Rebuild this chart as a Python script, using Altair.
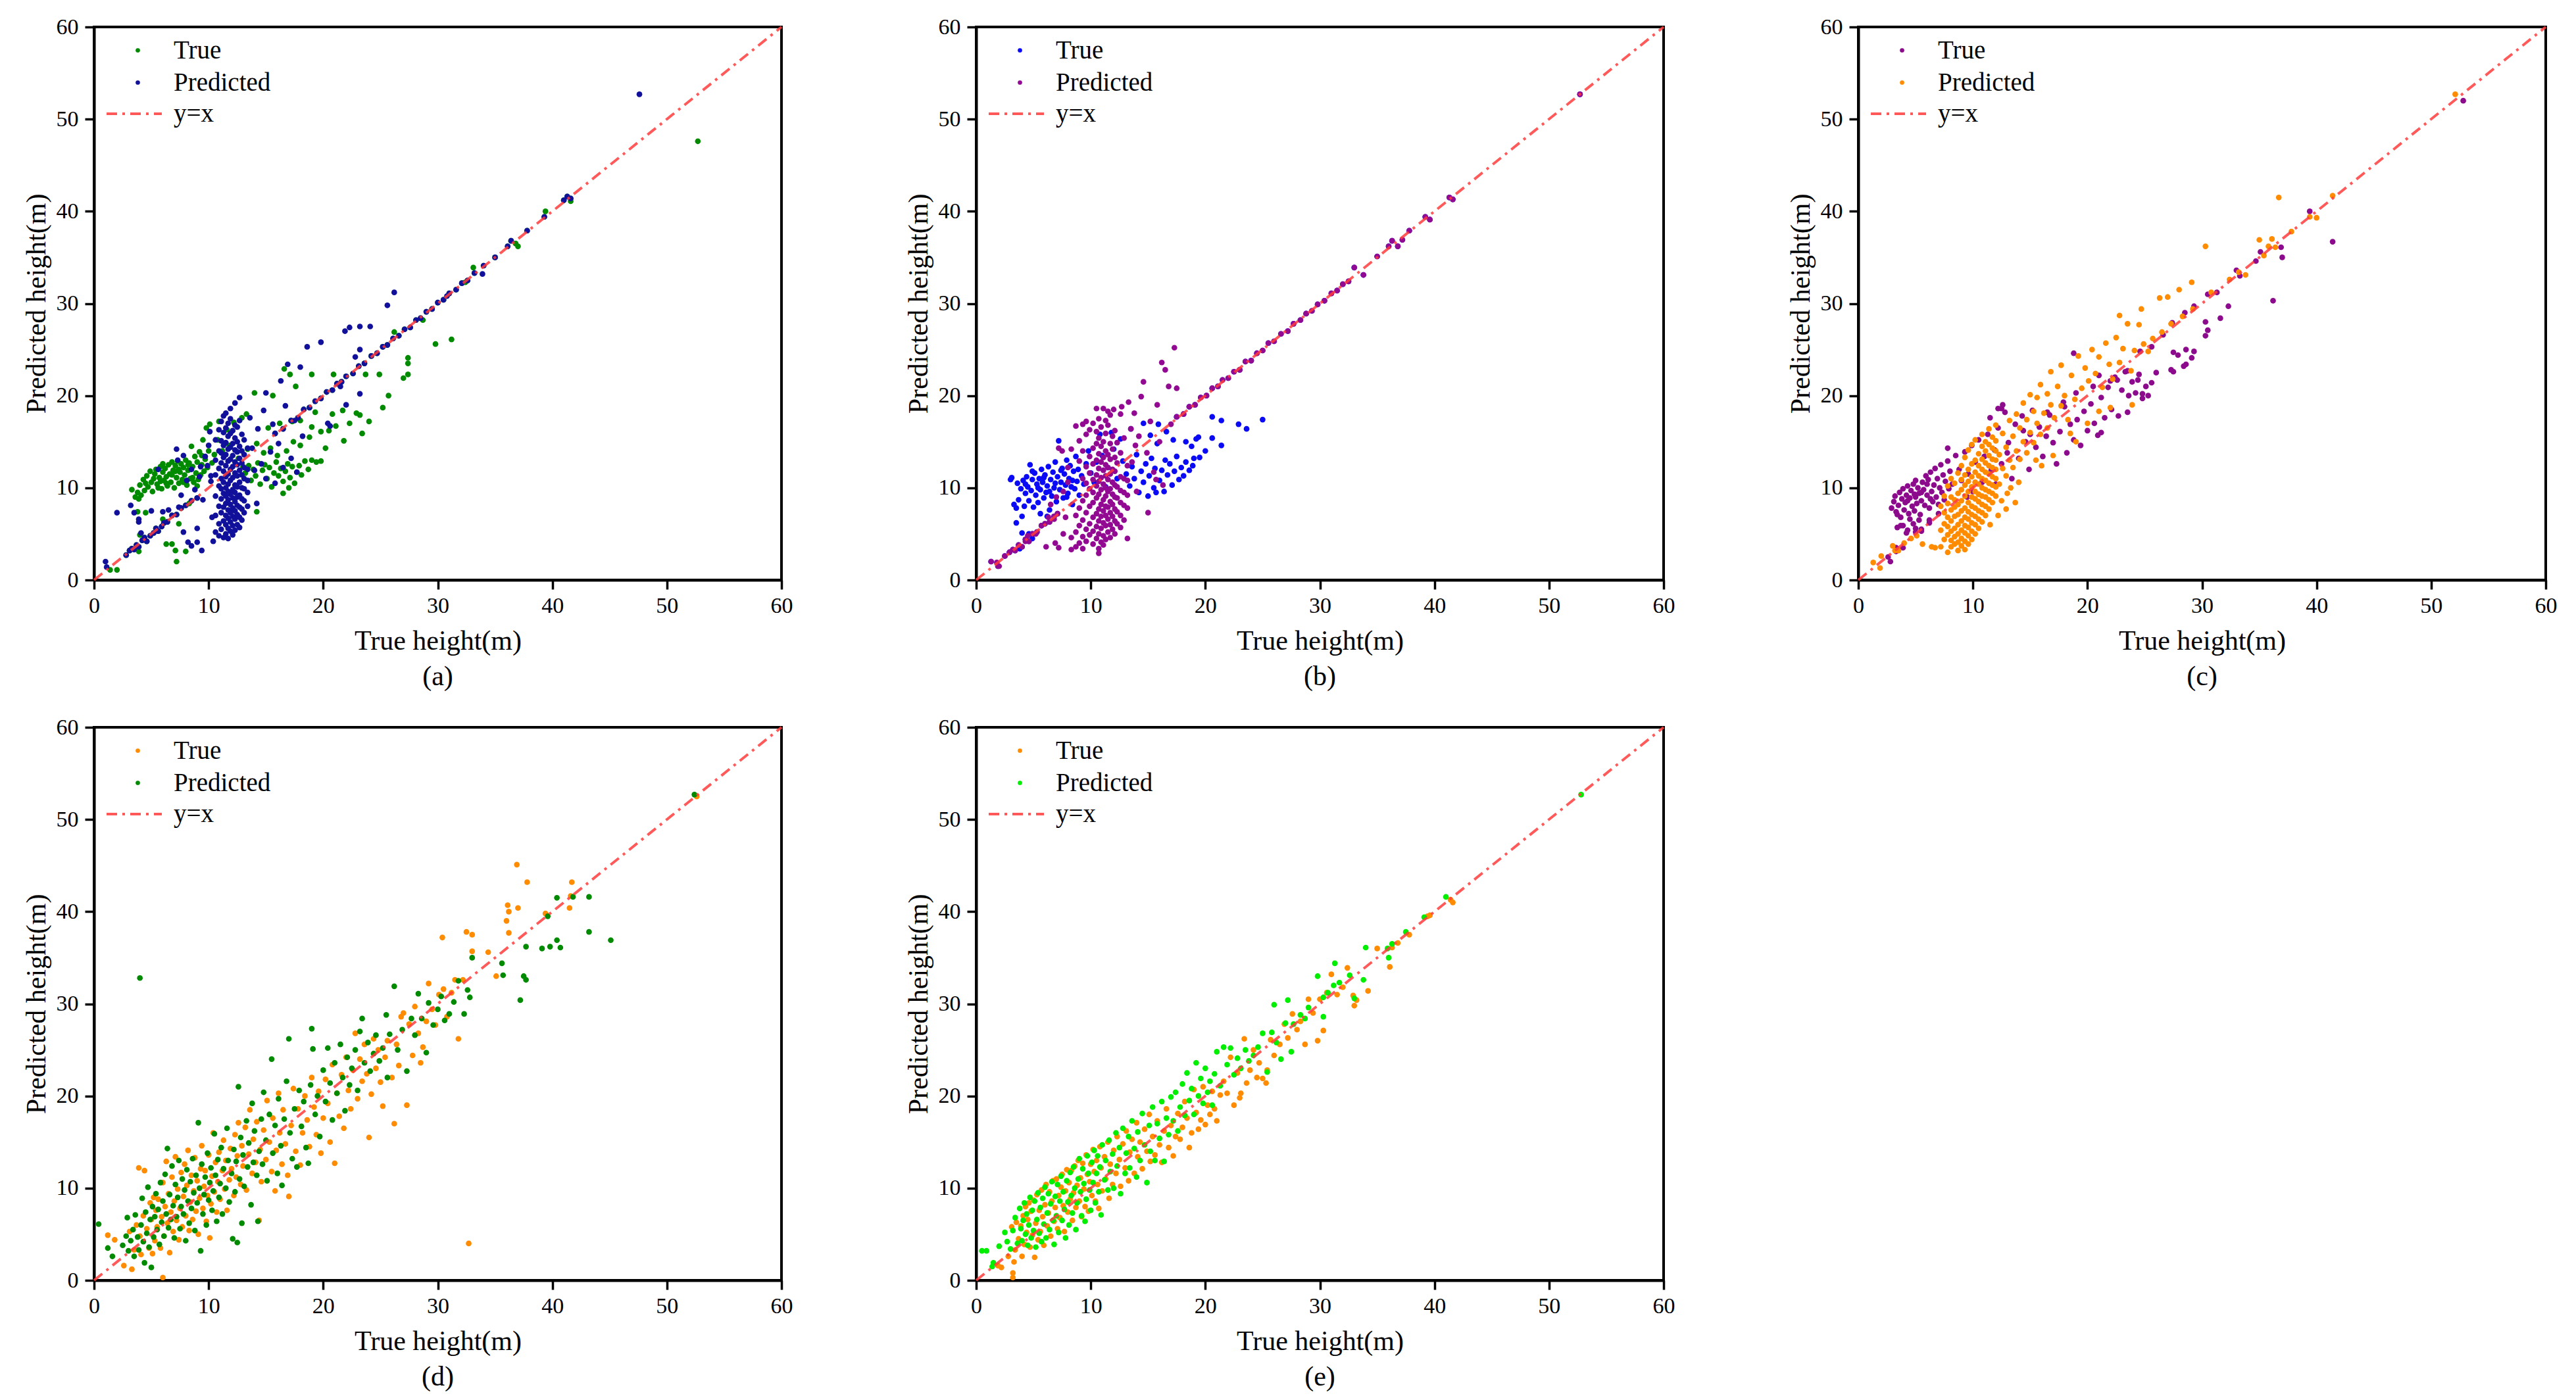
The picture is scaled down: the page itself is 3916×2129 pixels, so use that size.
import altair as alt
import pandas as pd

FONT = "Liberation Serif"
TICKS = [0, 10, 20, 30, 40, 50, 60]
LINE_X = [0, 60]
LINE_Y = [0, 60]
SERIES = ["True", "Predicted"]
LINE_LABEL = ["y=x"]
X_TITLE = "True height(m)"
Y_TITLE = "Predicted height(m)"
CAPTIONS = ["(a)", "(b)", "(c)", "(d)", "(e)"]
PALETTES = [
    ["#008a00", "#10109a"],
    ["#0a0af5", "#920a92"],
    ["#8c0a8c", "#ff8c00"],
    ["#ff8c00", "#008a00"],
    ["#ff8c00", "#00ee00"],
]
LINE_COLOR = "#ff3c3c"

# ---------------- panel (a) ----------------
A_DIAG_XY = [2.8,2.7, 3.1,3.2, 3.3,3.4, 3.5,3.3, 3.7,3.8, 3.9,3.6, 4.2,4.3, 4.4,4.6, 4.6,4.2, 4.9,4.8, 5.2,5.1, 5.4,5.6, 5.6,5.3, 5.9,5.8, 6.1,6.2, 6.4,6.3, 6.8,7.0, 7.2,7.1, 7.6,7.8, 8.0,8.1, 8.5,8.6, 9.0,8.9,
    15.8,15.9, 16.5,16.4, 17.2,17.3, 17.8,17.6, 18.3,18.5, 18.8,18.7, 19.3,19.4, 19.8,19.7, 20.3,20.4, 20.8,20.6, 21.2,21.3, 21.6,21.5, 22.0,22.1, 22.6,22.4, 23.1,23.2, 23.6,23.5, 24.2,24.3, 24.7,24.6, 25.2,25.3, 25.6,25.5,
    26.1,26.2, 26.6,26.5, 27.1,27.2, 27.6,27.4, 28.1,28.2, 28.5,28.4, 29.0,29.1, 29.5,29.4, 30.0,30.1, 30.5,30.4, 31.0,31.1, 31.6,31.5, 32.1,32.2, 32.6,32.5, 33.2,33.3, 34.0,34.1, 35.0,35.0, 36.1,36.2, 36.4,36.8, 37.8,37.9, 39.3,39.4, 41.0,41.2, 41.3,41.6, 41.6,41.4]
A_TRUE_XY = [3.3,9.8, 3.6,9.0, 3.8,9.5, 4.0,10.3, 4.1,9.2, 4.3,10.9, 4.4,9.7, 4.6,11.3, 4.7,10.1, 4.9,11.8, 5.0,10.6, 5.1,9.6, 5.3,11.5, 5.4,12.0, 5.5,10.4, 5.7,11.1, 5.8,12.3, 5.9,9.9, 6.0,11.7, 6.1,10.8, 6.2,12.1, 6.3,11.2, 6.4,10.2, 6.5,12.5, 6.6,11.5, 6.7,10.6, 6.8,12.8, 6.9,11.9, 7.0,10.0, 7.1,12.4,
    7.2,11.1, 7.3,12.9, 7.4,10.5, 7.5,11.7, 7.6,12.6, 7.7,10.9, 7.8,12.2, 7.9,11.4, 8.0,13.0, 8.1,10.3, 8.2,11.9, 8.3,12.7, 8.4,11.0, 8.5,14.5, 8.6,12.3, 8.7,10.6, 8.8,13.4, 8.9,11.6, 9.0,12.8, 9.1,10.9, 9.2,13.9, 9.3,11.4, 9.4,12.5, 9.5,15.2, 9.6,11.8, 9.7,13.1, 9.8,16.5, 9.9,12.2, 10.0,14.0, 10.1,16.9,
    4.5,10.5, 5.2,11.0, 5.6,10.0, 6.0,12.6, 6.3,10.5, 6.8,11.4, 7.1,11.8, 7.4,12.0, 7.8,10.6, 8.2,12.5, 8.6,11.1, 9.0,10.2, 9.4,13.5, 10.3,12.7, 10.5,13.6, 10.8,15.2, 10.9,17.2, 11.2,14.0, 3.9,8.8, 5.8,10.7,
    1.4,1.1, 2.0,1.1, 6.3,3.9, 6.8,3.9, 7.1,3.2, 7.2,2.0, 8.0,3.1, 7.4,6.1, 6.0,6.6, 4.5,7.3, 3.8,7.4, 4.0,4.9, 3.9,3.1, 8.3,8.3,
    11.6,16.3, 12.2,17.1, 12.6,13.2, 13.0,12.3, 11.8,14.6, 12.9,17.6, 13.3,18.0,
    13.2,11.6, 13.5,12.4, 13.7,10.8, 13.9,12.0, 14.1,11.3, 14.3,12.7, 14.5,10.4, 14.7,11.9, 14.9,12.5, 15.1,11.0, 15.3,12.2, 15.5,10.1, 15.7,11.6, 15.9,12.8, 16.1,11.3, 16.3,12.1, 16.5,10.7, 16.7,11.8, 16.9,12.6, 17.1,11.1,
    17.3,12.3, 17.5,10.5, 17.7,11.7, 17.9,12.4, 18.1,11.4, 18.4,12.9, 18.7,12.0, 19.0,13.0, 19.4,12.8, 19.8,12.9, 13.4,14.2, 14.2,14.8, 14.8,13.8, 15.4,14.3, 16.0,13.5, 16.8,14.0, 17.4,15.0, 18.0,14.6, 16.5,9.4, 17.0,10.0, 14.2,7.4,
    14.0,20.3, 15.6,20.0, 16.6,22.9, 17.1,22.3, 17.6,21.0, 18.0,17.3, 17.3,17.2, 16.2,17.0, 15.2,16.5, 19.0,22.3, 19.3,18.2, 20.9,22.3, 23.7,22.3, 24.9,22.3,
    20.2,14.3, 21.1,16.7, 21.8,15.1, 20.5,16.2, 20.8,18.0, 21.7,18.4, 22.9,18.1, 23.2,17.9, 23.4,15.9, 24.0,17.2, 22.3,17.0, 19.0,16.6, 19.8,16.1, 18.8,15.5, 25.2,18.7, 25.7,20.0, 27.0,21.9, 27.4,22.3, 27.4,23.5, 27.4,24.1,
    29.8,25.6, 31.2,26.1, 37.0,36.2, 36.8,36.5, 39.4,40.0, 41.6,41.1, 52.7,47.6, 33.1,33.9, 32.4,32.3, 28.7,28.2, 26.2,26.9]
A_PRED_XY = [10.6,5.2, 10.6,7.0, 10.6,9.1, 10.6,11.4, 10.6,13.0, 10.6,15.2,
    10.9,4.8, 10.9,6.1, 10.9,8.0, 10.9,10.2, 10.9,12.1, 10.9,14.0, 10.9,16.3,
    11.1,5.5, 11.1,7.3, 11.1,8.8, 11.1,9.9, 11.1,11.0, 11.1,12.7, 11.1,13.8, 11.1,15.1, 11.1,17.2,
    11.3,4.6, 11.3,6.4, 11.3,7.9, 11.3,9.4, 11.3,10.6, 11.3,11.8, 11.3,13.3, 11.3,14.6, 11.3,16.0, 11.3,17.8,
    11.5,5.0, 11.5,6.0, 11.5,7.0, 11.5,8.3, 11.5,9.1, 11.5,10.0, 11.5,11.2, 11.5,12.4, 11.5,13.6, 11.5,14.9, 11.5,16.5, 11.5,18.1,
    11.7,4.5, 11.7,5.6, 11.7,6.7, 11.7,7.6, 11.7,8.7, 11.7,9.6, 11.7,10.4, 11.7,11.5, 11.7,12.9, 11.7,14.2, 11.7,15.6, 11.7,17.0,
    11.9,5.3, 11.9,6.3, 11.9,7.3, 11.9,8.2, 11.9,9.3, 11.9,10.8, 11.9,12.0, 11.9,13.1, 11.9,14.4, 11.9,15.9, 11.9,17.5, 11.9,18.6,
    12.1,4.9, 12.1,5.9, 12.1,6.9, 12.1,7.8, 12.1,8.9, 12.1,9.8, 12.1,11.1, 12.1,12.3, 12.1,13.5, 12.1,14.8, 12.1,16.2,
    12.3,5.4, 12.3,6.6, 12.3,7.5, 12.3,8.5, 12.3,9.5, 12.3,10.3, 12.3,11.6, 12.3,12.8, 12.3,14.1, 12.3,15.4, 12.3,16.8, 12.3,19.2,
    12.5,6.0, 12.5,7.1, 12.5,8.1, 12.5,9.0, 12.5,10.1, 12.5,11.3, 12.5,12.5, 12.5,13.9, 12.5,15.0, 12.5,16.6,
    12.7,5.7, 12.7,6.8, 12.7,7.9, 12.7,9.2, 12.7,10.6, 12.7,11.9, 12.7,13.2, 12.7,14.5, 12.7,17.3, 12.7,19.8,
    12.9,6.5, 12.9,7.7, 12.9,8.8, 12.9,10.0, 12.9,11.4, 12.9,12.7, 12.9,14.0, 12.9,15.8,
    13.1,7.3, 13.1,8.6, 13.1,9.9, 13.1,11.0, 13.1,12.2, 13.1,13.6, 13.1,15.2,
    13.4,8.0, 13.4,9.5, 13.4,10.8, 13.4,12.0, 13.4,14.3,
    1.0,2.0, 1.1,1.4, 2.0,7.3, 3.2,8.1, 3.5,7.3, 3.9,6.6, 3.9,6.3, 4.1,5.1, 5.0,7.5, 6.0,7.4, 6.5,7.6, 7.2,14.2, 7.3,13.0, 7.4,7.9, 7.6,9.2, 7.8,5.2, 8.2,4.1, 8.5,3.7, 9.0,4.1, 9.4,3.2,
    9.0,5.6, 9.5,8.7, 9.3,12.3, 8.5,12.0, 8.1,10.8, 8.8,9.8, 9.7,13.4, 10.0,14.6, 10.1,16.1, 10.2,10.7, 10.3,6.8, 10.4,4.2, 13.6,17.6, 13.8,14.3, 14.0,11.9, 14.2,8.3, 14.3,16.4, 14.6,12.6, 14.8,18.4, 15.0,20.3,
    15.0,11.0, 15.4,13.9, 15.6,16.9, 15.8,10.5, 16.1,14.8, 16.3,21.6, 16.5,12.2, 16.7,18.9, 16.9,23.4, 17.2,13.2, 17.5,17.3, 17.7,11.7, 18.0,23.1, 18.2,15.6, 18.6,25.3, 19.8,25.8, 20.6,16.7, 21.9,27.0, 22.3,27.4, 23.2,27.5,
    24.1,27.5, 23.2,25.0, 21.5,21.0, 22.0,19.0, 23.2,20.2, 25.6,29.8, 26.2,31.2, 22.8,24.2, 20.4,17.0, 30.8,30.8, 33.9,33.2, 47.6,52.7, 5.6,12.0, 7.8,13.5, 9.2,11.2, 9.9,12.4, 10.2,11.3]

# ---------------- panel (b) ----------------
B_DIAG_XY = [1.3,2.0, 1.9,1.5, 2.5,2.6, 2.9,3.0, 3.2,3.3, 3.4,3.2, 3.7,3.8, 4.0,3.6, 4.3,4.4, 4.6,4.2, 4.9,5.0, 5.3,5.2, 5.7,5.9, 6.0,6.1, 6.4,6.3, 6.8,6.9, 7.1,7.2,
    17.5,17.7, 18.1,18.0, 18.6,18.8, 19.1,19.0, 19.6,19.8, 20.1,20.0, 20.6,20.8, 21.1,21.0, 21.5,21.7, 22.0,21.9, 22.5,22.6, 23.0,22.8, 23.5,23.7, 24.0,23.8, 24.5,24.6, 25.0,24.9, 25.5,25.7, 26.0,25.9, 26.6,26.7, 27.2,27.0,
    27.7,27.8, 28.3,28.2, 28.8,28.9, 29.3,29.2, 29.8,29.9, 30.4,30.3, 31.0,31.1, 31.5,31.4, 32.0,32.1, 32.5,32.4, 33.0,33.9, 33.8,33.1, 35.0,35.1, 36.0,36.2, 36.3,36.8, 36.8,36.2, 37.2,36.9, 37.8,37.9, 39.2,39.4, 39.6,39.1,
    41.3,41.5, 41.6,41.3, 52.7,52.7]
B_TRUE_XY = [3.1,11.1, 3.3,8.2, 3.5,7.8, 3.6,10.5, 3.7,8.7, 3.9,9.9, 4.0,6.9, 4.1,10.8, 4.2,8.0, 4.3,9.4, 4.4,11.2, 4.5,10.1, 4.6,8.6, 4.7,12.5, 4.8,9.7, 4.9,10.9, 5.0,7.9, 5.1,11.6, 5.2,9.2, 5.3,10.4,
    5.4,8.4, 5.5,11.0, 5.6,9.8, 5.7,12.0, 5.8,10.6, 5.9,8.9, 6.0,11.4, 6.1,9.5, 6.2,10.2, 6.3,12.3, 6.4,7.6, 6.5,10.9, 6.6,9.1, 6.7,11.7, 6.8,10.0, 6.9,12.8, 7.0,8.5, 7.1,11.2, 7.2,15.1, 7.3,9.8,
    7.4,10.6, 7.5,12.1, 7.6,8.9, 7.7,11.5, 7.8,10.3, 7.9,13.0, 8.0,9.4, 8.1,11.0, 8.2,12.4, 8.3,10.1, 8.4,8.2, 8.5,11.8, 8.6,9.9, 8.7,13.4, 8.8,10.7, 8.9,12.0, 9.0,9.2, 9.2,11.3, 9.4,10.4, 9.6,12.6,
    9.8,14.0, 10.0,11.6, 4.3,10.4, 4.9,11.8, 5.4,10.0, 5.9,11.1, 6.4,9.6, 6.9,10.5, 7.4,11.9, 7.9,9.0, 8.4,10.8, 3.0,10.9, 3.5,6.2, 4.0,5.1, 4.6,5.0, 4.9,4.5, 3.8,3.4, 5.6,7.2, 6.2,6.9,
    12.8,12.9, 13.1,11.5, 13.4,10.2, 13.6,12.3, 13.8,11.0, 14.0,13.6, 14.2,9.5, 14.4,11.8, 14.6,10.6, 14.8,12.6, 15.0,9.1, 15.1,11.3, 15.3,13.2, 15.5,10.0, 15.6,12.1, 15.8,14.8, 16.0,10.8, 16.2,11.9, 16.4,9.6, 16.5,13.0,
    16.7,11.4, 16.9,12.6, 17.1,10.3, 17.3,11.8, 17.5,13.4, 17.7,10.9, 17.9,12.2, 18.1,11.3, 18.3,12.8, 18.6,11.9, 18.9,12.4, 15.2,15.7, 15.9,16.9, 16.6,16.1, 17.2,15.2, 14.6,17.0, 13.5,16.4, 15.7,9.5,
    25.0,17.4, 23.6,16.4, 22.9,16.9, 21.4,17.3, 20.6,17.7, 21.4,14.6, 20.6,15.4, 20.0,14.0, 19.4,15.5, 19.0,13.2, 19.5,13.3, 18.3,15.0, 18.8,14.5, 19.2,15.3,
    10.5,12.8, 11.0,13.5, 11.5,12.2, 12.0,14.2, 12.3,11.0, 10.8,15.8, 11.8,16.0, 12.6,15.3, 10.3,10.6, 11.3,10.1]
B_PRED_XY = [8.3,3.3, 8.3,4.6, 8.3,14.2, 8.7,3.6, 8.7,5.2, 8.7,7.0, 8.7,16.7, 9.0,4.0, 9.0,5.9, 9.0,7.8, 9.0,12.9, 9.0,15.1,
    9.3,3.4, 9.3,4.7, 9.3,6.5, 9.3,8.6, 9.3,11.0, 9.3,14.0, 9.3,16.9, 9.6,4.2, 9.6,5.5, 9.6,7.3, 9.6,9.2, 9.6,10.5, 9.6,12.3, 9.6,15.8, 9.6,17.2,
    9.9,4.9, 9.9,6.1, 9.9,8.0, 9.9,9.9, 9.9,11.6, 9.9,13.4, 9.9,16.3, 10.2,3.9, 10.2,5.3, 10.2,6.8, 10.2,8.4, 10.2,9.5, 10.2,10.9, 10.2,12.6, 10.2,14.3, 10.2,17.0,
    10.5,4.5, 10.5,5.8, 10.5,7.2, 10.5,8.9, 10.5,10.2, 10.5,11.4, 10.5,13.0, 10.5,14.8, 10.5,16.1, 10.5,18.6,
    10.7,2.9, 10.7,3.4, 10.7,5.0, 10.7,6.4, 10.7,7.7, 10.7,9.3, 10.7,10.7, 10.7,12.1, 10.7,13.7, 10.7,15.4, 10.7,17.5,
    10.9,4.1, 10.9,5.6, 10.9,6.9, 10.9,8.2, 10.9,9.8, 10.9,11.1, 10.9,12.8, 10.9,14.5, 10.9,16.6,
    11.1,3.8, 11.1,4.8, 11.1,6.2, 11.1,7.5, 11.1,8.7, 11.1,10.4, 11.1,11.9, 11.1,13.3, 11.1,15.0, 11.1,18.6,
    11.3,4.4, 11.3,5.9, 11.3,7.0, 11.3,8.0, 11.3,9.1, 11.3,10.0, 11.3,11.3, 11.3,12.5, 11.3,14.0, 11.3,15.9, 11.3,17.3,
    11.5,5.2, 11.5,6.6, 11.5,7.9, 11.5,9.6, 11.5,10.9, 11.5,12.2, 11.5,13.6, 11.5,16.8, 11.5,18.3,
    11.7,4.6, 11.7,6.0, 11.7,7.3, 11.7,8.5, 11.7,9.9, 11.7,11.5, 11.7,13.1, 11.7,14.8, 11.7,17.9,
    11.9,5.5, 11.9,6.9, 11.9,8.2, 11.9,9.3, 11.9,10.6, 11.9,12.0, 11.9,14.2, 11.9,15.6,
    12.1,5.0, 12.1,6.4, 12.1,7.7, 12.1,9.0, 12.1,10.3, 12.1,11.8, 12.1,13.3, 12.1,16.2,
    12.3,6.1, 12.3,7.4, 12.3,8.9, 12.3,10.1, 12.3,12.7, 12.3,14.9, 12.6,5.7, 12.6,7.0, 12.6,8.4, 12.6,9.7, 12.6,11.2, 12.6,13.8, 12.6,18.0,
    12.9,6.5, 12.9,8.1, 12.9,9.5, 12.9,11.0, 12.9,15.4, 13.2,7.8, 13.2,9.2, 13.2,10.8, 13.2,12.4, 13.2,4.5,
    6.3,6.8, 6.5,8.2, 7.2,14.3, 7.5,14.0, 8.0,12.2, 8.0,10.6, 7.0,9.0, 6.8,6.6, 7.6,9.6,
    13.3,19.3, 13.8,18.1, 14.2,15.6, 14.6,21.5, 14.9,13.8, 15.2,17.2, 15.5,11.7, 15.8,19.0, 16.2,23.6, 16.5,22.8, 16.8,21.0, 17.3,25.2, 17.5,20.8, 17.0,16.9, 16.0,15.0, 15.0,7.3, 14.0,9.6, 13.6,12.8, 13.5,16.4, 14.4,19.9,
    13.9,14.6, 12.7,18.8, 12.0,18.5, 16.3,10.3, 15.7,10.9,
    2.0,1.5, 1.8,1.9, 4.5,4.8, 5.2,5.0, 6.1,3.6, 6.9,4.0, 7.2,3.5, 7.6,5.0, 7.8,6.8, 4.3,4.2]

# ---------------- panel (c) ----------------
C_TRUE_XY = [2.9,7.8, 3.1,8.5, 3.2,9.1, 3.3,7.4, 3.5,8.1, 3.6,9.5, 3.7,6.8, 3.8,8.8, 3.9,9.9, 4.0,7.6, 4.1,8.4, 4.2,9.2, 4.3,10.2, 4.4,7.2, 4.5,8.9, 4.6,9.7, 4.7,8.0, 4.8,10.4, 4.9,7.5, 5.0,9.0,
    5.1,8.3, 5.2,10.0, 5.3,9.4, 5.4,7.1, 5.5,8.6, 5.6,10.6, 5.7,9.8, 5.8,8.1, 5.9,11.3, 6.0,9.2, 6.1,10.9, 6.2,7.8, 6.3,11.7, 6.4,9.6, 6.5,8.5, 6.6,10.3, 6.7,12.1, 6.8,9.0, 6.9,11.0, 7.0,8.2,
    7.1,10.0, 7.2,12.5, 7.3,9.5, 7.4,11.4, 7.5,8.7, 7.6,10.7, 7.8,12.9, 7.9,9.9, 8.0,11.8, 8.2,10.4, 4.3,8.6, 4.9,9.3, 5.5,9.5, 6.0,10.4, 6.3,8.8, 5.0,10.8, 4.5,6.6, 3.4,5.7, 3.9,5.9, 4.8,6.1,
    5.3,6.5, 5.0,5.6, 4.3,5.4, 5.5,5.5, 6.2,6.2, 7.8,14.3, 3.4,7.1, 3.7,5.9, 4.2,5.1,
    8.5,13.5, 8.8,12.0, 9.0,10.8, 9.3,13.9, 9.6,11.5, 9.9,14.6, 10.2,12.8, 10.5,15.2, 10.8,10.6, 11.0,13.4, 11.3,15.8, 11.6,11.9, 11.9,14.1, 12.2,16.5, 12.5,12.6, 12.8,18.2, 13.1,14.9, 13.4,11.0, 13.7,16.9, 14.0,13.2,
    14.3,17.8, 14.6,15.0, 14.9,12.0, 15.2,18.4, 15.5,14.4, 15.8,16.6, 16.1,13.4, 16.4,15.6, 16.7,17.9, 17.0,14.9, 17.3,12.6, 17.6,16.1, 17.9,19.3, 18.2,13.8, 18.5,16.9, 18.8,15.2, 19.1,17.4, 19.4,14.6, 19.7,18.3, 20.0,16.2,
    20.3,19.1, 20.6,17.0, 20.9,15.7, 21.2,19.8, 21.5,17.6, 21.8,20.9, 22.1,18.5, 22.4,22.0, 22.7,17.8, 23.0,20.6, 23.3,22.6, 23.6,20.0, 23.9,21.5, 24.2,20.3, 24.5,22.3, 24.8,19.7, 25.1,21.0, 22.0,21.6, 21.0,22.2, 20.5,21.0,
    19.0,20.3, 18.0,18.8, 16.5,18.2, 15.0,15.8, 14.4,16.2, 13.0,13.8, 12.0,10.4, 10.0,9.6, 9.5,9.0, 11.5,17.6, 12.5,18.6, 12.6,19.0, 12.2,18.6, 18.8,24.6, 21.2,16.0, 23.5,18.2, 24.8,20.2,
    27.5,22.6, 27.9,24.4, 28.6,23.4, 29.1,24.1, 29.3,24.8, 30.3,26.5, 30.5,27.1, 30.3,28.0, 31.6,28.4, 32.3,29.7, 36.2,30.3, 41.4,36.7, 37.0,35.0, 36.9,36.1, 39.4,40.0, 52.8,52.0, 34.7,34.6, 35.1,35.6, 33.0,33.6, 33.3,33.0,
    31.3,31.2, 30.5,31.0, 29.3,29.7, 28.5,29.0, 27.4,27.9, 26.6,26.6, 25.6,25.3, 24.6,24.8, 26.0,22.5, 25.6,21.4, 25.3,20.0, 24.4,21.7, 23.5,22.7, 22.6,21.7, 27.3,22.8, 28.4,23.2, 27.5,24.7, 28.6,25.0,
    2.6,2.5, 2.8,2.0, 3.3,3.5, 3.9,3.5, 3.3,3.1, 5.0,5.2, 5.5,5.3, 6.2,6.5, 7.0,7.2]
C_PRED_XY = [7.2,3.6, 7.2,5.4, 7.2,8.0, 7.5,4.4, 7.5,6.1, 7.5,7.3, 7.5,9.1, 7.8,3.0, 7.8,4.9, 7.8,5.8, 7.8,6.8, 7.8,8.3, 7.8,10.2,
    8.1,3.6, 8.1,4.3, 8.1,5.3, 8.1,6.4, 8.1,7.6, 8.1,9.0, 8.1,11.0, 8.4,3.9, 8.4,4.7, 8.4,5.6, 8.4,6.9, 8.4,7.9, 8.4,8.7, 8.4,10.5,
    8.7,3.2, 8.7,4.1, 8.7,5.0, 8.7,6.0, 8.7,7.1, 8.7,8.2, 8.7,9.4, 8.7,11.6, 9.0,3.7, 9.0,4.5, 9.0,5.4, 9.0,6.4, 9.0,7.5, 9.0,8.6, 9.0,9.8, 9.0,10.9, 9.0,12.4,
    9.3,3.3, 9.3,4.2, 9.3,5.1, 9.3,5.9, 9.3,6.8, 9.3,7.8, 9.3,9.1, 9.3,10.3, 9.3,11.4, 9.3,13.3,
    9.6,3.9, 9.6,4.8, 9.6,5.7, 9.6,6.6, 9.6,7.4, 9.6,8.4, 9.6,9.6, 9.6,10.7, 9.6,12.0, 9.6,14.1,
    9.9,4.4, 9.9,5.3, 9.9,6.2, 9.9,7.1, 9.9,8.0, 9.9,9.0, 9.9,10.1, 9.9,11.2, 9.9,12.6, 9.9,14.7,
    10.2,5.0, 10.2,6.0, 10.2,6.9, 10.2,7.8, 10.2,8.8, 10.2,9.6, 10.2,10.6, 10.2,11.7, 10.2,13.0, 10.2,15.2,
    10.5,5.6, 10.5,6.6, 10.5,7.5, 10.5,8.5, 10.5,9.3, 10.5,10.4, 10.5,11.3, 10.5,12.4, 10.5,13.7,
    10.8,6.3, 10.8,7.3, 10.8,8.2, 10.8,9.1, 10.8,10.0, 10.8,11.0, 10.8,12.0, 10.8,13.1, 10.8,14.5, 10.8,15.8,
    11.1,7.0, 11.1,8.0, 11.1,9.0, 11.1,9.8, 11.1,10.8, 11.1,11.7, 11.1,12.7, 11.1,14.0, 11.1,15.0,
    11.4,7.7, 11.4,8.7, 11.4,9.6, 11.4,10.5, 11.4,11.5, 11.4,12.4, 11.4,13.5, 11.4,14.7, 11.4,16.4,
    11.7,8.4, 11.7,9.4, 11.7,10.3, 11.7,11.2, 11.7,12.2, 11.7,13.1, 11.7,14.3, 11.7,15.5,
    12.0,9.1, 12.0,10.1, 12.0,11.0, 12.0,12.0, 12.0,13.0, 12.0,14.0, 12.0,15.1, 12.0,16.8,
    11.5,6.0, 12.2,7.0, 12.9,7.7, 13.7,8.4, 12.5,8.6, 13.3,10.0,
    12.3,10.4, 12.3,13.6, 12.6,12.1, 12.6,15.9, 12.9,11.3, 12.9,14.4, 13.2,13.0, 13.2,17.3, 13.5,12.2, 13.5,15.6, 13.8,14.0, 13.8,18.0, 14.1,13.1, 14.1,16.5, 14.4,15.0, 14.4,19.2, 14.7,13.8, 14.7,17.4, 15.0,16.0, 15.0,20.1,
    15.3,14.9, 15.3,18.3, 15.6,17.0, 15.6,19.8, 15.9,15.8, 15.9,21.2, 16.2,18.1, 16.5,16.5, 16.5,20.2, 16.8,19.0, 16.8,22.6, 17.1,17.6, 17.4,21.0, 17.7,18.9, 17.7,23.3, 18.0,20.0, 18.3,17.4, 18.6,22.2, 18.9,19.6, 19.2,24.3,
    19.5,20.8, 19.8,23.0, 20.1,21.6, 20.4,25.0, 20.7,22.4, 21.0,24.2, 21.3,20.9, 21.6,25.7, 21.9,23.4, 22.2,21.8, 22.5,26.3, 22.8,28.7, 22.8,23.6, 23.1,25.1, 23.5,27.8, 23.8,22.7, 24.1,24.9, 24.5,27.7, 24.7,29.4, 24.9,25.6,
    25.3,24.8, 25.7,26.2, 26.3,30.6, 26.5,26.9, 27.0,30.7, 27.3,27.8, 28.0,31.5, 28.3,28.6, 29.1,32.3, 29.2,29.4, 30.3,36.2, 30.8,31.2, 32.4,32.6, 33.2,33.4, 33.8,33.1, 35.0,36.9, 35.4,35.2, 35.8,36.2, 36.1,37.0, 36.4,36.1,
    36.7,41.5, 37.8,37.8, 39.4,39.4, 40.0,39.3, 41.4,41.7, 52.1,52.7, 23.9,19.0, 22.0,18.7, 20.0,17.0, 19.0,15.0, 17.0,13.5, 16.0,12.4, 14.0,10.6, 13.0,9.4, 15.5,13.0, 18.5,15.9, 21.0,18.3,
    1.3,1.9, 1.9,1.3, 2.0,2.6, 3.0,3.7, 3.5,3.2, 4.6,4.5, 5.1,4.8, 5.6,3.9, 6.4,3.6, 6.7,3.5, 3.2,3.2, 4.0,4.0]

# ---------------- panel (d) ----------------
D_TRUE_XY = [1.2,4.9, 1.8,4.4, 2.6,1.6, 3.1,5.3, 3.3,1.2, 3.5,3.3, 3.7,6.0, 3.9,12.2, 4.0,4.8, 4.1,2.8, 4.3,7.0, 4.4,11.9, 4.6,5.6, 4.8,3.5, 4.9,8.4, 5.0,6.6, 5.1,2.9, 5.2,9.0, 5.3,4.3, 5.4,7.6,
    5.5,5.8, 5.6,8.8, 5.8,3.5, 5.9,6.9, 6.0,0.3, 6.0,10.6, 6.1,4.8, 6.2,8.0, 6.3,12.9, 6.4,6.2, 6.5,9.4, 6.6,3.0, 6.7,7.4, 6.8,11.2, 6.9,5.3, 7.0,8.6, 7.1,13.4, 7.2,6.5, 7.3,9.9, 7.4,4.4,
    7.5,7.8, 7.6,11.7, 7.7,5.8, 7.8,9.1, 7.9,12.6, 8.0,7.0, 8.1,10.3, 8.2,14.1, 8.3,5.4, 8.4,8.5, 8.5,11.4, 8.6,6.6, 8.7,9.7, 8.8,13.3, 8.9,7.5, 9.0,10.8, 9.1,5.0, 9.2,8.9, 9.3,12.1, 9.4,14.6,
    9.5,7.8, 9.6,10.2, 9.7,11.9, 9.8,6.4, 9.9,9.2, 10.0,13.6, 10.1,4.6, 10.2,8.3, 10.3,11.3, 10.4,16.0, 10.5,9.6, 10.6,12.8, 10.7,7.4, 10.8,10.7, 10.9,13.9, 11.0,8.8, 11.2,11.9, 11.3,15.2, 11.4,9.9, 11.5,13.0,
    11.6,7.6, 11.8,10.9, 11.9,14.3, 12.0,12.1, 12.2,9.2, 12.3,15.8, 12.4,11.2, 12.5,13.5, 12.6,17.1, 12.8,10.4, 12.9,14.6, 13.0,12.4, 13.2,16.6, 13.3,9.8, 13.5,13.7, 13.6,18.5, 13.8,11.6, 13.9,15.3, 14.1,12.8, 14.2,17.2,
    14.4,6.5, 14.5,14.2, 14.6,10.7, 14.8,16.3, 15.0,13.1, 15.1,19.5, 15.3,15.0, 15.5,11.8, 15.6,17.6, 15.8,9.7, 15.9,14.1, 16.1,20.3, 16.2,16.0, 16.4,12.6, 16.5,18.5, 16.7,14.8, 16.9,11.4, 17.0,9.1,
    17.2,16.8, 17.4,20.8, 17.6,14.0, 17.8,18.6, 18.0,12.5, 18.2,16.0, 18.4,20.0, 18.6,17.4, 18.8,14.5, 19.0,22.0, 19.2,18.8, 19.4,15.8, 19.6,20.5, 19.8,13.8, 20.0,17.6, 20.2,21.8, 20.4,19.2, 20.6,15.0, 20.8,23.4, 21.0,12.7,
    21.2,20.3, 21.4,17.8, 21.6,22.3, 21.8,16.5, 22.0,24.2, 22.2,20.6, 22.4,18.6, 22.6,22.8, 22.8,26.8, 23.0,19.7, 23.2,24.0, 23.4,21.6, 23.6,25.6, 23.8,22.4, 24.0,15.5, 24.2,20.2, 24.4,26.2, 24.6,23.0, 24.8,25.0, 25.0,21.5,
    25.2,18.9, 25.4,24.2, 25.6,26.0, 26.0,22.0, 26.2,17.0, 26.4,25.6, 26.6,23.3, 26.8,28.6, 27.0,29.0, 27.3,19.0, 27.5,27.8, 27.8,24.4, 28.0,29.7, 28.3,26.8, 28.5,23.6, 28.7,25.3, 29.0,28.1, 29.2,32.2, 29.5,29.4, 29.8,27.7,
    30.1,31.0, 30.4,37.2, 30.5,31.6, 30.8,28.6, 31.2,31.2, 31.5,32.6, 31.8,26.2, 32.2,32.6, 32.5,37.8, 32.7,4.0, 33.0,37.5, 33.0,35.7, 34.4,35.6, 35.1,33.0, 36.0,39.0, 36.1,40.7, 36.2,40.0, 36.2,37.7, 37.0,40.4, 36.9,45.1,
    37.8,43.2, 39.4,39.8, 41.5,40.4, 41.7,43.2, 41.6,41.7, 52.6,52.5]
D_PRED_XY = [0.4,6.1, 1.2,3.5, 1.6,2.6, 2.5,3.8, 2.8,4.8, 2.9,6.8, 3.0,3.2, 3.2,4.3, 3.4,5.5, 3.5,2.6, 3.6,7.1, 3.8,4.7, 3.9,3.3, 4.0,32.8, 4.1,6.0, 4.2,8.9, 4.3,4.2, 4.4,1.9, 4.5,7.4, 4.6,5.1,
    4.7,10.1, 4.8,3.6, 4.9,6.6, 5.0,1.4, 5.1,8.0, 5.2,4.7, 5.3,6.9, 5.4,9.4, 5.5,5.5, 5.6,7.7, 5.7,3.9, 5.8,10.6, 5.9,6.3, 6.0,8.6, 6.1,4.8, 6.2,11.5, 6.3,7.2, 6.4,14.3, 6.5,5.7, 6.6,9.3,
    6.7,6.6, 6.8,12.4, 6.9,8.1, 7.0,4.6, 7.1,10.4, 7.2,6.9, 7.3,9.0, 7.4,13.0, 7.5,5.6, 7.6,8.0, 7.7,11.0, 7.8,7.2, 7.9,9.8, 8.0,4.3, 8.1,12.0, 8.2,8.6, 8.3,6.2, 8.4,10.7, 8.5,7.8, 8.6,13.2,
    8.7,9.5, 8.8,5.4, 8.9,11.4, 9.0,8.4, 9.1,17.1, 9.2,10.0, 9.3,3.2, 9.4,12.6, 9.5,7.2, 9.6,9.3, 9.7,11.2, 9.8,6.0, 9.9,13.8, 10.0,8.7, 10.1,10.6, 10.2,12.2, 10.3,7.6, 10.4,9.7, 10.5,15.9, 10.6,11.4,
    10.7,6.4, 10.8,13.1, 10.9,9.0, 11.0,10.5, 11.1,14.4, 11.2,7.2, 11.3,12.1, 11.5,10.0, 11.6,16.5, 11.7,13.0, 11.8,8.5, 12.0,11.6, 12.1,4.5, 12.2,14.2, 12.3,9.6, 12.4,12.9, 12.5,4.1, 12.6,21.0, 12.7,11.0, 12.8,15.5,
    12.9,6.2, 13.0,13.6, 13.1,10.2, 13.3,17.3, 13.4,12.3, 13.5,14.9, 13.7,8.2, 13.8,19.2, 13.9,12.8, 14.0,16.2, 14.2,11.4, 14.3,6.4, 14.4,14.0, 14.6,17.5, 14.7,12.6, 14.8,20.4, 15.0,15.2, 15.1,10.8, 15.3,18.0, 15.5,24.0,
    15.6,13.8, 15.8,16.8, 16.0,11.6, 16.1,19.7, 16.3,14.6, 16.4,10.3, 16.6,17.5, 16.8,21.6, 17.0,26.2, 17.1,16.0, 17.3,13.2, 17.5,18.6, 17.7,12.3, 17.9,20.6, 18.1,16.7, 18.3,19.4, 18.5,14.4, 18.7,12.7, 18.9,21.2, 19.0,27.3,
    19.1,25.1, 19.3,18.0, 19.5,20.0, 19.7,15.6, 20.0,22.8, 20.2,19.4, 20.4,25.2, 20.6,21.4, 20.8,17.4, 21.0,23.6, 21.2,20.3, 21.5,25.6, 21.7,22.0, 21.9,18.4, 22.1,24.2, 22.3,21.2, 22.5,23.0, 22.8,25.0, 23.0,20.6, 23.2,27.0,
    23.4,28.4, 23.6,23.6, 23.9,25.8, 24.1,22.7, 24.4,24.6, 24.6,26.6, 24.9,23.8, 25.2,25.2, 25.5,28.8, 25.6,22.0, 25.8,26.7, 26.2,31.9, 26.5,25.0, 26.9,27.2, 27.3,22.7, 27.7,28.4, 28.0,26.6, 28.3,31.1, 28.6,28.4, 29.0,24.7,
    29.2,30.1, 29.6,27.7, 30.0,29.4, 30.3,30.8, 30.6,28.2, 31.0,28.9, 31.4,30.2, 31.8,32.5, 32.3,28.9, 32.6,31.5, 32.8,30.7, 33.0,35.0, 35.6,34.4, 35.7,33.1, 37.2,30.4, 37.5,33.0, 37.7,32.6, 37.7,36.2, 39.1,36.0, 39.6,39.5,
    39.8,36.2, 40.4,36.9, 40.4,41.5, 40.7,36.1, 41.8,41.6, 43.2,41.6, 43.2,37.8, 45.1,36.9, 52.4,52.7]

# ---------------- panel (e) ----------------
E_TRUE_XY = [1.9,1.6, 2.2,1.4, 2.8,2.6, 3.2,0.3, 3.2,0.8, 3.3,2.0, 3.1,5.8, 3.4,3.3, 3.5,6.3, 3.7,4.5, 3.9,5.9, 4.0,2.6, 4.1,7.0, 4.2,3.9, 4.3,8.0, 4.4,5.2, 4.5,6.6, 4.6,8.4, 4.7,3.6, 4.8,7.5,
    4.9,4.9, 5.0,8.7, 5.1,2.5, 5.2,6.2, 5.3,9.3, 5.4,4.4, 5.5,7.6, 5.6,5.3, 5.7,9.8, 5.8,6.9, 5.9,3.8, 6.0,8.2, 6.1,10.4, 6.2,5.9, 6.3,7.3, 6.4,9.6, 6.5,4.8, 6.6,8.6, 6.7,10.8, 6.8,6.4,
    6.9,7.9, 7.0,11.0, 7.1,5.6, 7.2,9.2, 7.3,6.8, 7.4,10.1, 7.5,11.5, 7.6,8.1, 7.7,5.3, 7.8,9.7, 7.9,12.0, 8.0,7.4, 8.1,10.6, 8.2,8.8, 8.3,11.9, 8.4,6.5, 8.5,9.5, 8.6,12.4, 8.7,7.9, 8.8,10.3,
    8.9,13.0, 9.0,8.6, 9.1,11.1, 9.2,6.9, 9.3,12.7, 9.4,9.9, 9.5,8.0, 9.6,13.6, 9.7,11.5, 9.8,7.5, 9.9,10.7, 10.0,12.6, 10.1,9.2, 10.2,14.2, 10.3,11.8, 10.4,8.6, 10.5,13.0, 10.6,10.4, 10.7,7.8, 10.8,14.5,
    10.9,12.2, 11.0,9.7, 11.2,13.4, 11.3,11.0, 11.5,15.0, 11.6,8.9, 11.7,12.6, 11.9,10.4, 12.0,14.1, 12.2,11.6, 12.3,15.6, 12.5,13.1, 12.6,10.2, 12.8,14.8, 13.0,12.2, 13.1,16.2, 13.3,10.8, 13.4,13.9, 13.6,15.3, 13.8,11.6,
    14.0,17.1, 14.1,13.4, 14.3,15.0, 14.5,12.1, 14.7,16.4, 14.9,14.0, 15.1,18.0, 15.2,12.9, 15.4,15.6, 15.6,13.6, 15.8,17.3, 16.0,14.7, 16.2,12.8, 16.4,16.2, 16.6,18.6, 16.8,14.4, 17.0,16.8,
    17.2,13.5, 17.4,15.6, 17.6,18.1, 17.8,15.3, 18.0,16.6, 18.2,19.4, 18.4,17.6, 18.6,14.4, 18.8,16.0, 19.0,20.7, 19.2,18.2, 19.4,16.4, 19.6,17.4, 19.8,21.0, 20.0,16.9, 20.2,19.0, 20.4,18.0, 20.6,20.5, 20.8,18.6, 21.0,17.3,
    21.3,20.1, 21.6,21.6, 21.9,20.3, 22.2,24.2, 22.5,19.0, 22.8,22.5, 23.0,19.8, 23.1,20.3, 23.4,26.2, 23.6,21.4, 23.9,22.8, 24.2,25.0, 24.5,22.0, 24.7,23.6, 25.0,21.9, 25.3,21.4, 25.4,22.8, 25.7,26.1, 26.0,24.4,
    26.5,25.6, 26.9,27.8, 27.2,26.3, 27.6,28.9, 28.0,27.2, 28.3,28.1, 28.7,25.6, 29.0,30.5, 29.4,29.0, 29.8,26.0, 30.0,30.5, 30.3,27.1, 30.6,31.2, 31.0,33.2, 31.5,31.0, 32.0,31.8, 32.4,33.9, 32.9,30.9, 33.0,29.8, 33.2,30.4,
    34.2,31.4, 35.0,36.0, 36.1,34.0, 36.3,36.1, 36.8,36.6, 37.8,37.5, 39.4,39.5, 39.6,39.6, 41.6,41.0, 41.4,41.3]
E_PRED_XY = [0.5,3.2, 0.9,3.2, 1.5,1.9, 1.4,1.5, 2.0,3.7, 2.5,5.2, 2.7,4.2, 3.0,3.4, 3.2,5.4, 3.4,6.8, 3.6,4.0, 3.8,7.8, 3.9,5.6, 4.0,4.3, 4.1,6.5, 4.2,8.4, 4.3,5.0, 4.4,7.2, 4.5,3.8, 4.6,6.0,
    4.7,9.0, 4.8,4.6, 4.9,7.6, 5.0,5.4, 5.1,8.6, 5.2,3.6, 5.3,6.6, 5.4,9.5, 5.5,5.1, 5.6,7.9, 5.7,4.2, 5.8,8.9, 5.9,6.1, 6.0,10.1, 6.1,4.6, 6.2,7.3, 6.3,9.4, 6.4,5.5, 6.5,8.3, 6.6,10.7,
    6.7,6.5, 6.8,3.9, 6.9,9.1, 7.0,7.0, 7.1,10.4, 7.2,5.2, 7.3,8.6, 7.4,11.3, 7.5,6.5, 7.6,9.6, 7.7,7.7, 7.8,4.6, 7.9,10.8, 8.0,8.5, 8.1,6.0, 8.2,11.7, 8.3,9.2, 8.4,7.3, 8.5,12.3, 8.6,10.0,
    8.7,5.5, 8.8,8.4, 8.9,11.0, 9.0,13.2, 9.1,9.6, 9.2,7.0, 9.3,12.1, 9.4,10.5, 9.5,6.4, 9.6,8.8, 9.7,13.5, 9.8,11.6, 9.9,9.8, 10.0,7.6, 10.1,12.8, 10.2,10.6, 10.3,14.1, 10.4,8.4, 10.5,11.6, 10.6,13.5,
    10.7,9.6, 10.8,12.3, 10.9,7.1, 11.0,14.7, 11.2,10.9, 11.3,13.0, 11.5,9.8, 11.6,15.2, 11.7,11.8, 11.9,13.7, 12.0,10.0, 12.2,16.0, 12.3,12.4, 12.5,14.4, 12.6,9.4, 12.8,16.5, 13.0,11.6, 13.1,13.8, 13.3,15.6, 13.4,12.2,
    13.6,17.3, 13.8,14.3, 14.0,11.2, 14.1,16.1, 14.3,13.0, 14.5,18.1, 14.7,14.7, 14.9,10.6, 15.1,16.8, 15.2,14.0, 15.4,18.8, 15.6,13.0, 15.8,17.0, 16.0,15.4, 16.2,19.4, 16.4,12.9, 16.6,17.6, 16.8,15.8, 17.0,19.9,
    17.2,17.3, 17.4,20.4, 17.6,16.2, 17.8,18.8, 18.0,21.3, 18.2,17.9, 18.4,22.5, 18.6,19.5, 18.8,20.8, 19.0,18.0, 19.2,23.6, 19.4,20.0, 19.6,21.9, 19.8,19.2, 20.0,23.0, 20.2,20.4, 20.4,21.6, 20.6,19.0, 20.8,22.4, 21.0,24.8,
    21.3,21.1, 21.6,25.3, 21.9,23.4, 22.2,25.2, 22.5,22.3, 22.8,24.1, 23.1,23.0, 23.5,25.0, 23.8,23.8, 24.2,24.4, 24.6,25.3, 25.0,26.8, 25.4,22.6, 25.8,26.9, 26.0,29.9, 26.2,25.8, 26.6,24.0, 27.0,27.9, 27.2,30.4,
    27.5,24.8, 27.7,27.8, 28.3,28.8, 28.7,28.4, 29.0,29.6, 29.8,33.0, 30.3,30.7, 30.3,28.6, 30.7,31.2, 31.2,32.0, 31.3,34.4, 31.7,32.3, 32.6,33.1, 33.0,30.6, 33.8,32.6, 34.0,36.1, 35.9,36.0, 36.0,35.0, 36.3,36.5, 37.5,37.8,
    39.1,39.4, 41.0,41.6, 52.8,52.7]

PANEL_DATA = [
    (A_DIAG_XY + A_TRUE_XY, A_DIAG_XY + A_PRED_XY),
    (B_DIAG_XY + B_TRUE_XY, B_DIAG_XY + B_PRED_XY),
    (C_TRUE_XY, C_PRED_XY),
    (D_TRUE_XY, D_PRED_XY),
    (E_TRUE_XY, E_PRED_XY),
]


def pairs(flat):
    return list(zip(flat[0::2], flat[1::2]))


def panel(true_flat, pred_flat, colors, caption):
    rows = [(x, y, SERIES[0]) for x, y in pairs(true_flat)] + \
           [(x, y, SERIES[1]) for x, y in pairs(pred_flat)]
    df = pd.DataFrame(rows, columns=["x", "y", "s"])
    xscale = alt.Scale(domain=[0, 60], nice=False, zero=False)
    yscale = alt.Scale(domain=[0, 60], nice=False, zero=False)
    xaxis = alt.Axis(values=TICKS, title=X_TITLE, labelFlush=False, grid=False,
                     labelPadding=8, titlePadding=16, format="d")
    yaxis = alt.Axis(values=TICKS, title=Y_TITLE, labelFlush=False, grid=False,
                     labelPadding=10, titlePadding=8, format="d")
    pts = alt.Chart(df).mark_circle(size=75, opacity=1).encode(
        x=alt.X("x:Q", scale=xscale, axis=xaxis),
        y=alt.Y("y:Q", scale=yscale, axis=yaxis),
        color=alt.Color("s:N", scale=alt.Scale(domain=SERIES, range=colors),
                        legend=alt.Legend(title=None, orient="none", legendX=47, legendY=16,
                                          symbolType="circle", symbolSize=45,
                                          labelFont=FONT, labelFontSize=39, labelColor="black",
                                          labelOffset=35, rowPadding=9, padding=0, labelLimit=600)),
    )
    ldf = pd.DataFrame({"x": LINE_X, "y": LINE_Y, "k": LINE_LABEL * len(LINE_X)})
    line = alt.Chart(ldf).mark_line(color=LINE_COLOR, strokeWidth=4, opacity=0.85).encode(
        x=alt.X("x:Q", scale=xscale, axis=xaxis),
        y=alt.Y("y:Q", scale=yscale, axis=yaxis),
        strokeDash=alt.StrokeDash("k:N", scale=alt.Scale(domain=LINE_LABEL, range=[[16, 8, 4, 8]]),
                                  legend=alt.Legend(title=None, orient="none", legendX=17, legendY=88,
                                                    symbolType="stroke", symbolSize=7056,
                                                    symbolStrokeWidth=4, symbolStrokeColor=LINE_COLOR,
                                                    symbolOpacity=0.85,
                                                    labelFont=FONT, labelFontSize=39, labelColor="black",
                                                    labelOffset=16, padding=0, labelLimit=600)),
    )
    return alt.layer(pts, line).properties(
        width=1045, height=841,
        title=alt.TitleParams(caption, orient="bottom", anchor="middle", frame="group",
                              fontSize=42, font=FONT, fontWeight="normal", color="black", offset=14),
    )


panels = [panel(t, p, PALETTES[i], CAPTIONS[i]) for i, (t, p) in enumerate(PANEL_DATA)]

chart = alt.concat(*panels, columns=3, spacing={"row": 35, "column": 166}).resolve_scale(
    color="independent", strokeDash="independent"
).properties(
    padding={"left": 24, "top": 14, "right": 5, "bottom": 5}
).configure(font=FONT).configure_view(
    stroke="black", strokeWidth=4
).configure_axis(
    domainColor="black", domainWidth=4, tickColor="black", tickWidth=3.5, tickSize=14,
    labelFont=FONT, labelFontSize=34, labelColor="black",
    titleFont=FONT, titleFontSize=42, titleFontWeight="normal", titleColor="black"
)

chart.save("out.html", embed_options={"renderer": "svg", "actions": False})
